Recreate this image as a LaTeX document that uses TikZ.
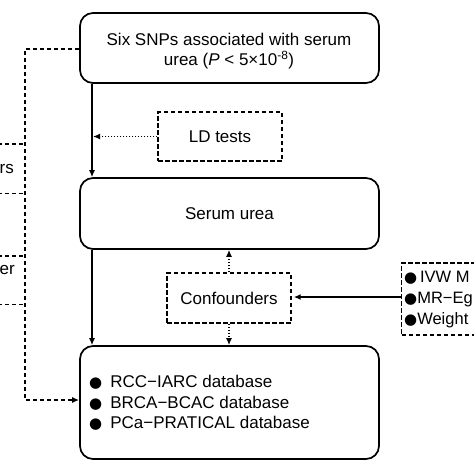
\documentclass[tikz,border=0pt]{standalone}
\usepackage{fontspec}
\setmainfont{Liberation Sans}
\newfontfamily\dejavu{DejaVu Sans}
\newcommand{\bul}{{\dejavu\fontsize{15}{15}\selectfont ●}}
\usetikzlibrary{arrows.meta}
\begin{document}
\begin{tikzpicture}[x=1pt,y=-1pt,
  font=\fontsize{17}{20.5}\selectfont,
  solidbox/.style={draw, line width=1.7pt, rounded corners=13pt, inner sep=0pt},
  dbox/.style={draw, line width=1.4pt, dash pattern=on 4.5pt off 2.5pt, inner sep=0pt},
  dline/.style={line width=1.4pt, dash pattern=on 4.5pt off 2.5pt},
  dotline/.style={line width=1.4pt, dash pattern=on 1.5pt off 1.5pt},
  tip/.style={-{Latex[length=7pt,width=6pt]}},
  solidline/.style={line width=1.6pt},
  txt/.style={inner sep=0pt}]
\useasboundingbox (0,0) rectangle (474,474);
\clip (0,0) rectangle (474,474);

% main boxes
\node[solidbox, minimum width=299pt, minimum height=70pt] (snp) at (229.5,48) {};
\node[txt, align=center] (snpt) at (229,51)
  {Six SNPs associated with serum\\urea (\textit{P} < 5×10\textsuperscript{-8})};
\node[dbox, minimum width=124pt, minimum height=49pt] (ld) at (220,136.5) {LD tests};
\node[solidbox, minimum width=299pt, minimum height=71pt] (serum) at (229.5,213.5) {Serum urea};
\node[dbox, minimum width=124pt, minimum height=50pt] (conf) at (229,298) {Confounders};
\node[solidbox, minimum width=299pt, minimum height=113pt] (bot) at (229.5,402.5) {};
\node[txt, anchor=west, align=left] (bott) at (89,403)
  {\bul\hspace{8pt}RCC−IARC database\\\bul\hspace{8pt}BRCA−BCAC database\\\bul\hspace{8pt}PCa−PRATICAL database};
\node[dbox, anchor=west, minimum width=120pt, minimum height=72pt] (meth) at (401,299) {};
\node[txt, anchor=west, align=left, font=\fontsize{16.5}{21}\selectfont] (metht) at (404,300)
  {\bul\,IVW M\\\bul MR−Eg\\\bul Weight};

% left partial boxes
\node[minimum width=90pt, minimum height=49pt, inner sep=0pt] (l1) at (-20,168.5) {};
\node[minimum width=90pt, minimum height=48pt, inner sep=0pt] (l2) at (-20,280) {};
\node[anchor=east, inner sep=0pt] (l1t) at (14,169) {rs};
\node[anchor=east, inner sep=0pt] (l2t) at (15,270) {er};
\draw[dline] (l1.north west) -- (l1.north east);
\draw[dline] (l1.south west) -- (l1.south east);
\draw[dline] (l2.north west) -- (l2.north east);
\draw[dline] (l2.south west) -- (l2.south east);

% connectors
\coordinate (vx) at (92,0);
\coordinate (c1) at (25,49);
\coordinate (c2) at (25,400);
\coordinate (ay) at (0,297);
\draw[solidline, tip] (snp.south -| vx) -- (serum.north -| vx);
\draw[solidline, tip] (serum.south -| vx) -- (bot.north -| vx);
\draw[dotline, tip, shorten >=1pt] (ld.west) -- (ld.west -| vx);
\draw[dotline, tip] (conf.north) -- (conf.north |- serum.south);
\draw[dotline, tip] (conf.south) -- (conf.south |- bot.north);
\draw[solidline, tip, shorten >=2pt] (meth.west |- ay) -- (conf.east |- ay);
\draw[dline, tip] (snp.west |- c1) -- (c1) -- (c2) -- (c2 -| bot.west);
\end{tikzpicture}
\end{document}
